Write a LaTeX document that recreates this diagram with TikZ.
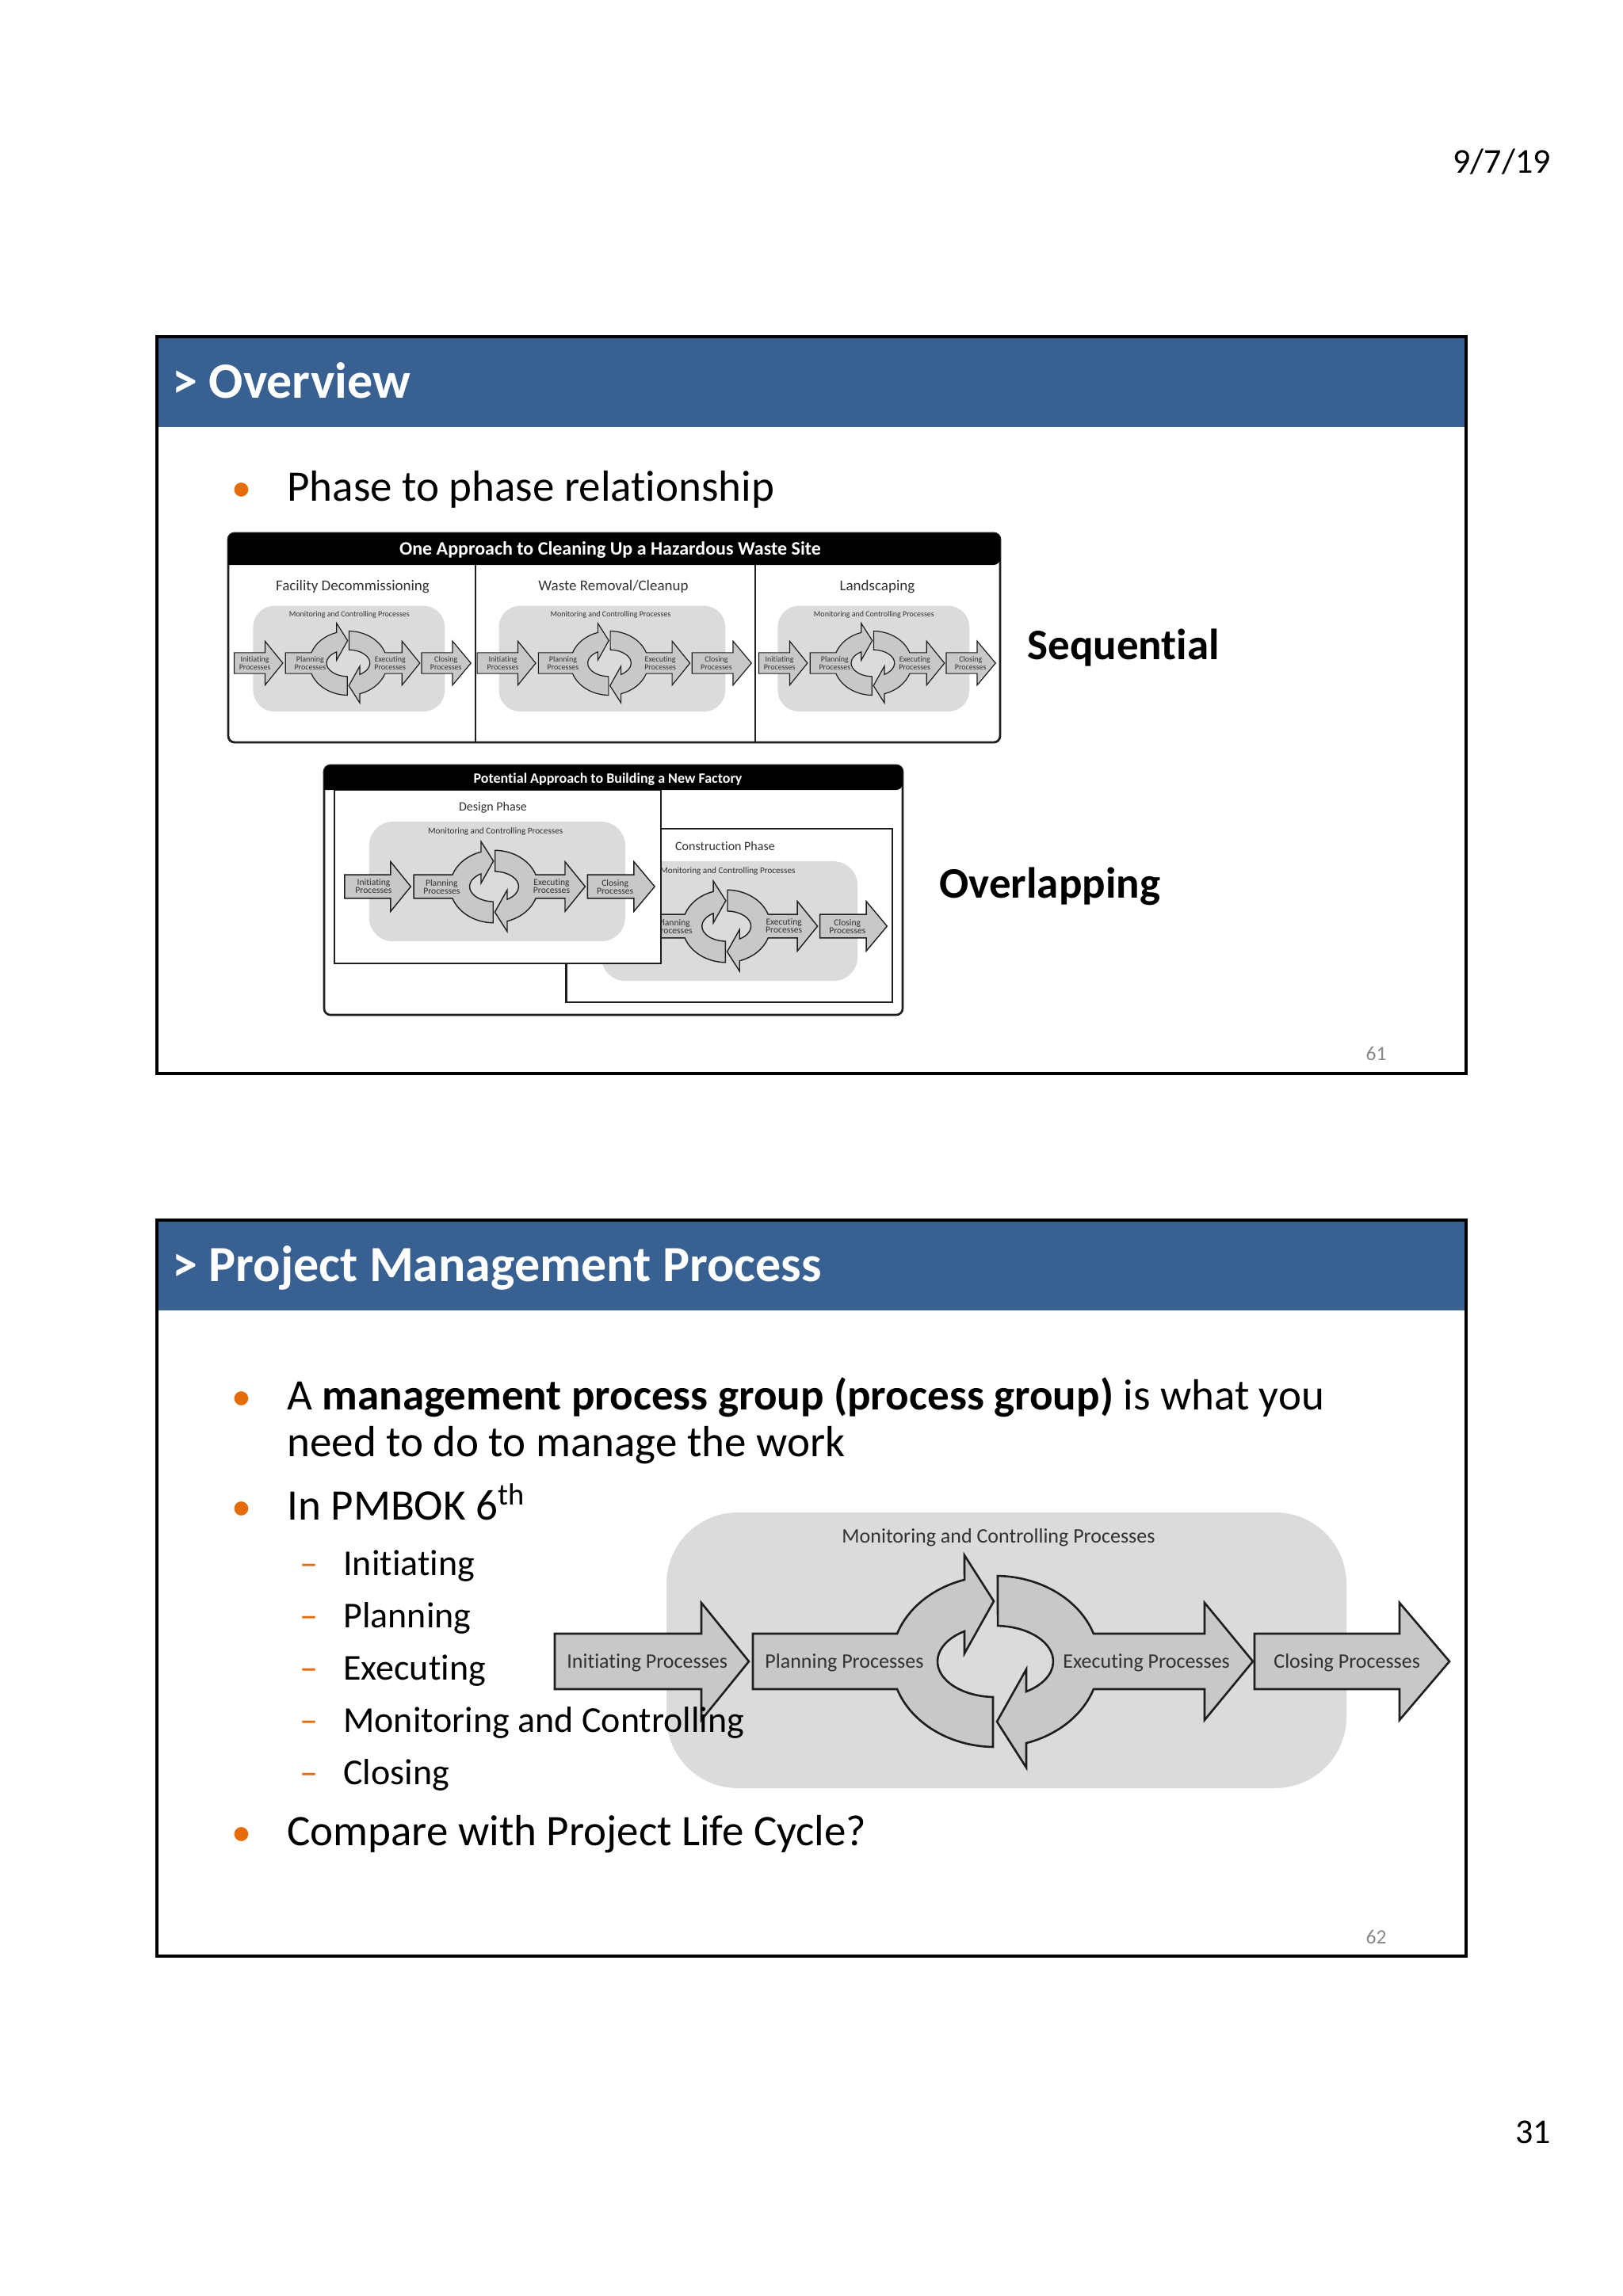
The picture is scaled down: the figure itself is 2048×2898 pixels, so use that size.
\documentclass[tikz,border=0pt]{standalone}
\usepackage{fontspec}
\setmainfont{Carlito}[Ligatures=NoCommon]
\definecolor{hdrblue}{RGB}{56,97,146}
\definecolor{borange}{RGB}{228,108,10}
\definecolor{diagbg}{RGB}{219,219,221}
\definecolor{arrfill}{RGB}{200,200,200}
\definecolor{arrline}{RGB}{30,30,30}
\definecolor{dtext}{RGB}{50,50,50}
\definecolor{pnum}{RGB}{137,137,137}

\newcommand\arrowP[3]{(#1,-35) -- (#2,-35) -- (#2,-74) -- (#3,0) -- (#2,74) -- (#2,35) -- (#1,35) -- cycle}
\newcommand\ringApath[1]{(#1,-35) -- (198.9:131 and 108) arc[start angle=198.9, end angle=252.7, x radius=131, y radius=108] -- (-39,-134) -- (-2,-76) -- (-39,-10) -- (237.7:73 and 45) arc[start angle=237.7, end angle=92.4, x radius=73, y radius=45] -- (91.3:131 and 108) arc[start angle=91.3, end angle=161.1, x radius=131, y radius=108] -- (#1,35) -- cycle}
\newcommand\ringBpath[2]{(271.3:131 and 108) -- (272.4:73 and 45) arc[start angle=272.4, end angle=417.7, x radius=73, y radius=45] -- (39,10) -- (2,76) -- (39,134) -- (72.7:131 and 108) arc[start angle=72.7, end angle=18.9, x radius=131, y radius=108] -- (#1,35) -- (#1,74) -- (#2,0) -- (#1,-74) -- (#1,-35) -- (-18.9:131 and 108) arc[start angle=-18.9, end angle=-88.7, x radius=131, y radius=108] -- cycle}

\newcommand\setlayout[8]{\def\rxA{#1}\def\rxB{#2}\def\iL{#3}\def\iB{#4}\def\pL{#5}\def\eB{#6}\def\cL{#7}\def\cB{#8}}
% #1 prefix #2 cx #3 cy #4 scale #5 label size #6 monitoring size #7 corner radius #8 line width #9 leading
\newcommand\smalldiag[9]{%
 \begin{scope}[shift={(#2,#3)}, scale=#4]
  \fill[diagbg, rounded corners=#7] (\rxA,-193) rectangle (\rxB,163);
  \node[lbl, anchor=base, font=\fontsize{#6}{#6}\selectfont] (#1-mc) at (4,-157) {Monitoring and Controlling Processes};
  \draw[arrowshape, line width=#8] \arrowP{\iL}{\iB}{\iB+60};
  \draw[arrowshape, line width=#8] \arrowP{\cL}{\cB}{\cB+62};
  \draw[arrowshape, line width=#8] \ringApath{\pL};
  \draw[arrowshape, line width=#8] \ringBpath{\eB}{\eB+60};
  \node[lbl, font=\fontsize{#5}{#9}\selectfont] (#1-in) at ({(\iL+\iB)/2+18},0) {Initiating\\Processes};
  \node[lbl, font=\fontsize{#5}{#9}\selectfont] (#1-pl) at ({\pL+83},0) {Planning\\Processes};
  \node[lbl, font=\fontsize{#5}{#9}\selectfont] (#1-ex) at ({\eB-40},0) {Executing\\Processes};
  \node[lbl, font=\fontsize{#5}{#9}\selectfont] (#1-cl) at ({\cL+82},0) {Closing\\Processes};
 \end{scope}}

\begin{document}
\begin{tikzpicture}[x=0.5pt,y=-0.5pt,
  arrowshape/.style={fill=arrfill, draw=arrline, line join=miter},
  lbl/.style={inner sep=0pt, align=center, text=dtext},
  slideframe/.style={draw=black, line width=1.8pt},
  titletxt/.style={anchor=base west, inner sep=0pt, text=white, font=\fontsize{32}{38}\selectfont\bfseries},
  body/.style={anchor=base west, inner sep=0pt, font=\fontsize{27.5}{33}\selectfont},
  bullet/.style={anchor=base, inner sep=0pt, text=borange, font=\fontsize{25}{30}\selectfont},
  subbody/.style={anchor=base west, inner sep=0pt, font=\fontsize{23}{28}\selectfont},
  subdash/.style={anchor=base west, inner sep=0pt, text=borange, font=\fontsize{23}{28}\selectfont},
  pagenum/.style={anchor=base east, inner sep=0pt, text=pnum, font=\fontsize{12.8}{15}\selectfont},
  corner/.style={anchor=base east, inner sep=0pt, font=\fontsize{22}{26}\selectfont},
  figbox/.style={draw=arrline, fill=white, line width=1.1pt},
  coltitle/.style={anchor=base, inner sep=0pt, text=dtext, font=\fontsize{9.5}{11}\selectfont},
  bigtxt/.style={anchor=base west, inner sep=0pt, text=dtext, font=\fontsize{13}{15}\selectfont}
]
\fill[white] (0,0) rectangle (2048,2898);
\useasboundingbox (0,0) rectangle (2048,2898);

\node[corner] (date) at (1957,218) {9/7/19};
\node[corner] (pg) at (1957,2705) {31};

% ---------------- slide 1 ----------------
\fill[hdrblue] (198,425) rectangle (1850,539);
\draw[slideframe] (198,425) rectangle (1850,1355);
\node[titletxt] (t1) at (217,502) {> Overview};
\node[bullet] (b1) at (305,632) {•};
\node[body] (p1) at (362,632) {Phase to phase relationship};
\node[pagenum] (n61) at (1750,1338) {61};

% sequential figure
\draw[figbox, line width=1.4pt, rounded corners=4pt] (288,673) rectangle (1262,937);
\fill[black, rounded corners=4pt] (288,713) -- (288,673) -- (1262,673) -- (1262,713) [sharp corners] -- cycle;
\node[anchor=base, inner sep=0pt, text=white, font=\fontsize{12}{14}\selectfont\bfseries] (seqt) at (770,700) {One Approach to Cleaning Up a Hazardous Waste Site};
\draw[arrline, line width=1.1pt] (600,713) -- (600,937);
\draw[arrline, line width=1.1pt] (953,713) -- (953,937);
\node[coltitle] (c1) at (445,745) {Facility Decommissioning};
\node[coltitle] (c2) at (774,745) {Waste Removal/Cleanup};
\node[coltitle] (c3) at (1107,745) {Landscaping};
\setlayout{-320}{325}{-384}{-280}{-211}{181}{247}{351}
\smalldiag{s1}{439.4}{837}{0.375}{5}{5}{13.5pt}{0.6pt}{4.7}
\smalldiag{s3}{1101.4}{837}{0.375}{5}{5}{13.5pt}{0.6pt}{4.7}
\setlayout{-372}{390}{-445}{-308}{-239}{211}{278}{416}
\smalldiag{s2}{769}{837}{0.375}{5}{5}{13.5pt}{0.6pt}{4.7}
\node[body, font=\fontsize{27.5}{33}\selectfont\bfseries] (seq) at (1296,832) {Sequential};

% overlapping figure
\draw[figbox, line width=1.3pt, rounded corners=4pt] (409,966) rectangle (1139,1281);
\draw[figbox] (714.5,1046) rectangle (1125.7,1265);
\node[coltitle, font=\fontsize{8}{10}\selectfont] (cph) at (915,1073) {Construction Phase};
\smalldiag{o2}{916.7}{1169}{0.424}{5.8}{5.6}{15pt}{0.7pt}{5}
\draw[figbox] (422,997) rectangle (834,1216);
\node[coltitle, font=\fontsize{8}{10}\selectfont] (dph) at (622,1023) {Design Phase};
\smalldiag{o1}{623.5}{1119}{0.424}{5.8}{5.6}{15pt}{0.7pt}{5}
\fill[black, rounded corners=4pt] (409,997) -- (409,966) -- (1139,966) -- (1139,997) [sharp corners] -- cycle;
\node[anchor=base, inner sep=0pt, text=white, font=\fontsize{9}{11}\selectfont\bfseries] (ovt) at (767,988) {Potential Approach to Building a New Factory};
\node[body, font=\fontsize{27.5}{33}\selectfont\bfseries] (ovl) at (1185,1133) {Overlapping};

% ---------------- slide 2 ----------------
\fill[hdrblue] (198,1540) rectangle (1850,1654);
\draw[slideframe] (198,1540) rectangle (1850,2469);
\node[titletxt] (t2) at (217,1617) {> Project Management Process};
\node[pagenum] (n62) at (1750,2453) {62};

% big process diagram
\begin{scope}[shift={(1256,2097)}]
  \fill[diagbg, rounded corners=45pt] (-415,-188) rectangle (443,160);
  \node[lbl, anchor=base, font=\fontsize{13}{15}\selectfont] (bmc) at (4,-150) {Monitoring and Controlling Processes};
  \draw[arrowshape, line width=1.3pt] \arrowP{-556}{-371}{-311};
  \draw[arrowshape, line width=1.3pt] \arrowP{327}{510}{573};
  \draw[arrowshape, line width=1.3pt] \ringApath{-306};
  \draw[arrowshape, line width=1.3pt] \ringBpath{264}{325};
  \node[bigtxt] (bin) at (-541,8) {Initiating Processes};
  \node[bigtxt] (bpl) at (-291,8) {Planning Processes};
  \node[bigtxt] (bex) at (85,8) {Executing Processes};
  \node[bigtxt] (bcl) at (351,8) {Closing Processes};
\end{scope}

\node[bullet] (b2) at (305,1779) {•};
\node[body] (p2a) at (362,1779) {A \textbf{management process group (process group)} is what you};
\node[body] (p2b) at (362,1838) {need to do to manage the work};
\node[bullet] (b3) at (305,1918) {•};
\node[body] (p3) at (362,1918) {In PMBOK 6\textsuperscript{th}};
\node[subdash] (d1) at (378,1988) {–};
\node[subbody] (s1t) at (433,1988) {Initiating};
\node[subdash] (d2) at (378,2054) {–};
\node[subbody] (s2t) at (433,2054) {Planning};
\node[subdash] (d3) at (378,2120) {–};
\node[subbody] (s3t) at (433,2120) {Executing};
\node[subdash] (d4) at (378,2186) {–};
\node[subbody] (s4t) at (433,2186) {Monitoring and Controlling};
\node[subdash] (d5) at (378,2252) {–};
\node[subbody] (s5t) at (433,2252) {Closing};
\node[bullet] (b4) at (305,2329) {•};
\node[body] (p4) at (362,2329) {Compare with Project Life Cycle?};
\end{tikzpicture}
\end{document}
